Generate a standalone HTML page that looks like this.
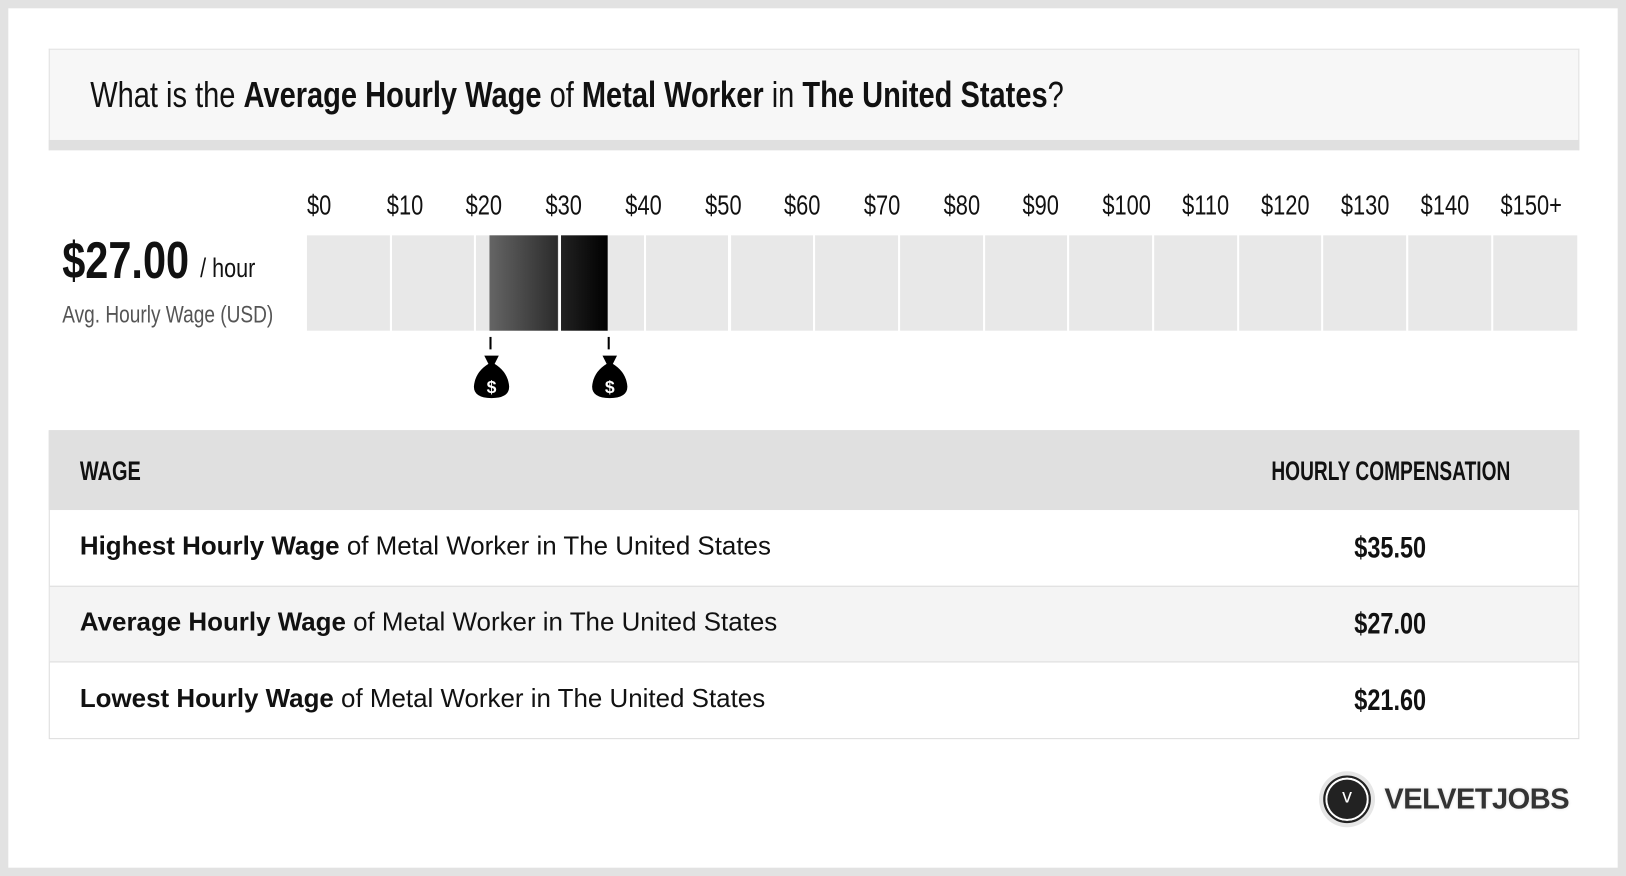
<!DOCTYPE html>
<html><head><meta charset="utf-8"><style>
*{margin:0;padding:0;box-sizing:border-box}
html,body{width:1626px;height:876px;overflow:hidden;background:#fff}
#w{position:absolute;left:0;top:0;width:1568px;height:845px;transform:scale(1.03699,1.03669);transform-origin:0 0;background:#fff;border:8px solid #e2e2e2}
.a{position:absolute;white-space:nowrap}
.n{font-family:"Liberation Sans Narrow","Liberation Sans",sans-serif;transform-origin:0 50%;color:#111}
.s{font-family:"Liberation Sans",sans-serif;color:#111;font-size:25px}
.seg{position:absolute;top:227px;height:92px;background:#e8e8e8}
</style></head><body><div id="w">
<div class="a" style="left:39px;top:39px;width:1476px;height:98px;background:#f7f7f7;border:1px solid #e2e2e2;border-bottom:none"></div>
<div class="a" style="left:39px;top:127px;width:1476px;height:10px;background:#e0e0e0"></div>
<div class="a n" style="left:79px;top:64px;font-size:35px;transform:scaleX(0.8)">What is the <b>Average Hourly Wage</b> of <b>Metal Worker</b> in <b>The United States</b>?</div>

<div class="a n" style="left:52px;top:214px;font-size:50px;font-weight:bold;transform:scaleX(0.8)">$27.00</div>
<div class="a n" style="left:185px;top:235px;font-size:26px;transform:scaleX(0.8)">/ hour</div>
<div class="a n" style="left:52px;top:282px;font-size:23px;color:#555;transform:scaleX(0.8)">Avg. Hourly Wage (USD)</div>

<div id="ticks"></div>
<div id="segs"></div>
<div class="a" style="left:464px;top:219px;width:66px;height:92px;background:linear-gradient(90deg,#656565,#2b2b2b)"></div>
<div class="a" style="left:533px;top:219px;width:45px;height:92px;background:linear-gradient(90deg,#222,#000)"></div>
<div class="a" style="left:464px;top:317px;width:2px;height:12px;background:#000"></div>
<div class="a" style="left:578px;top:317px;width:2px;height:12px;background:#000"></div>
<svg class="a" style="left:448px;top:333px" width="36" height="44" viewBox="0 0 36 44"><path d="M11 2 L25 2 L21 10 Q34 18 35 32 Q35 43 18 43 Q1 43 1 32 Q2 18 15 10 Z" fill="#000"/><text x="18" y="38" font-family="Liberation Sans" font-weight="bold" font-size="17" fill="#fff" text-anchor="middle">$</text></svg>
<svg class="a" style="left:562px;top:333px" width="36" height="44" viewBox="0 0 36 44"><path d="M11 2 L25 2 L21 10 Q34 18 35 32 Q35 43 18 43 Q1 43 1 32 Q2 18 15 10 Z" fill="#000"/><text x="18" y="38" font-family="Liberation Sans" font-weight="bold" font-size="17" fill="#fff" text-anchor="middle">$</text></svg>

<div class="a" style="left:39px;top:407px;width:1476px;height:298px;border:1px solid #ddd"></div>
<div class="a" style="left:39px;top:407px;width:1476px;height:77px;background:#e0e0e0"></div>
<div class="a" style="left:40px;top:557px;width:1474px;height:74px;background:#f4f4f4;border-top:1px solid #ddd;border-bottom:1px solid #ddd"></div>
<div class="a n" style="left:69px;top:431px;font-size:26px;font-weight:bold;transform:scaleX(0.74)">WAGE</div>
<div class="a n" style="left:1218px;top:431px;font-size:26px;font-weight:bold;transform:scaleX(0.71)">HOURLY COMPENSATION</div>
<div class="a s" style="left:69px;top:505px"><b>Highest Hourly Wage</b> of Metal Worker in The United States</div>
<div class="a s" style="left:69px;top:578px"><b>Average Hourly Wage</b> of Metal Worker in The United States</div>
<div class="a s" style="left:69px;top:652px"><b>Lowest Hourly Wage</b> of Metal Worker in The United States</div>
<div class="a n" style="left:1298px;top:505px;font-size:29px;font-weight:bold;transform:scaleX(0.78)">$35.50</div>
<div class="a n" style="left:1298px;top:578px;font-size:29px;font-weight:bold;transform:scaleX(0.78)">$27.00</div>
<div class="a n" style="left:1298px;top:652px;font-size:29px;font-weight:bold;transform:scaleX(0.78)">$21.60</div>

<div class="a" style="left:1264px;top:736px;width:54px;height:54px;border-radius:50%;background:#e6e6e6"></div>
<div class="a" style="left:1268px;top:740px;width:46px;height:46px;border-radius:50%;background:#222;border:2px solid #222;box-shadow:inset 0 0 0 2px #fff, inset 0 0 0 4px #222"></div>
<div class="a" style="left:1268px;top:750px;width:46px;text-align:center;font-family:'Liberation Sans',sans-serif;font-size:19px;color:#fff">v</div>
<div class="a" style="left:1327px;top:747px;font-family:'Liberation Sans',sans-serif;font-weight:bold;font-size:28px;color:#333;letter-spacing:-0.5px;text-shadow:0 0 3px #ddd">VELVETJOBS</div>
</div>
<script>
var w=document.getElementById('w');
var L=['$0','$10','$20','$30','$40','$50','$60','$70','$80','$90','$100','$110','$120','$130','$140','$150+'];
for(var i=0;i<16;i++){var d=document.createElement('div');d.className='a n';d.style.cssText='left:'+(288+i*76.7)+'px;top:175px;font-size:27px;transform:scaleX(0.78)';d.textContent=L[i];w.appendChild(d);}
for(var i=0;i<15;i++){var x=288+i*81.7;var d=document.createElement('div');d.className='seg';d.style.left=x+'px';d.style.top='219px';d.style.width=(i==14?81:79.7)+'px';w.insertBefore(d,w.children[6]);}
</script>
</body></html>
